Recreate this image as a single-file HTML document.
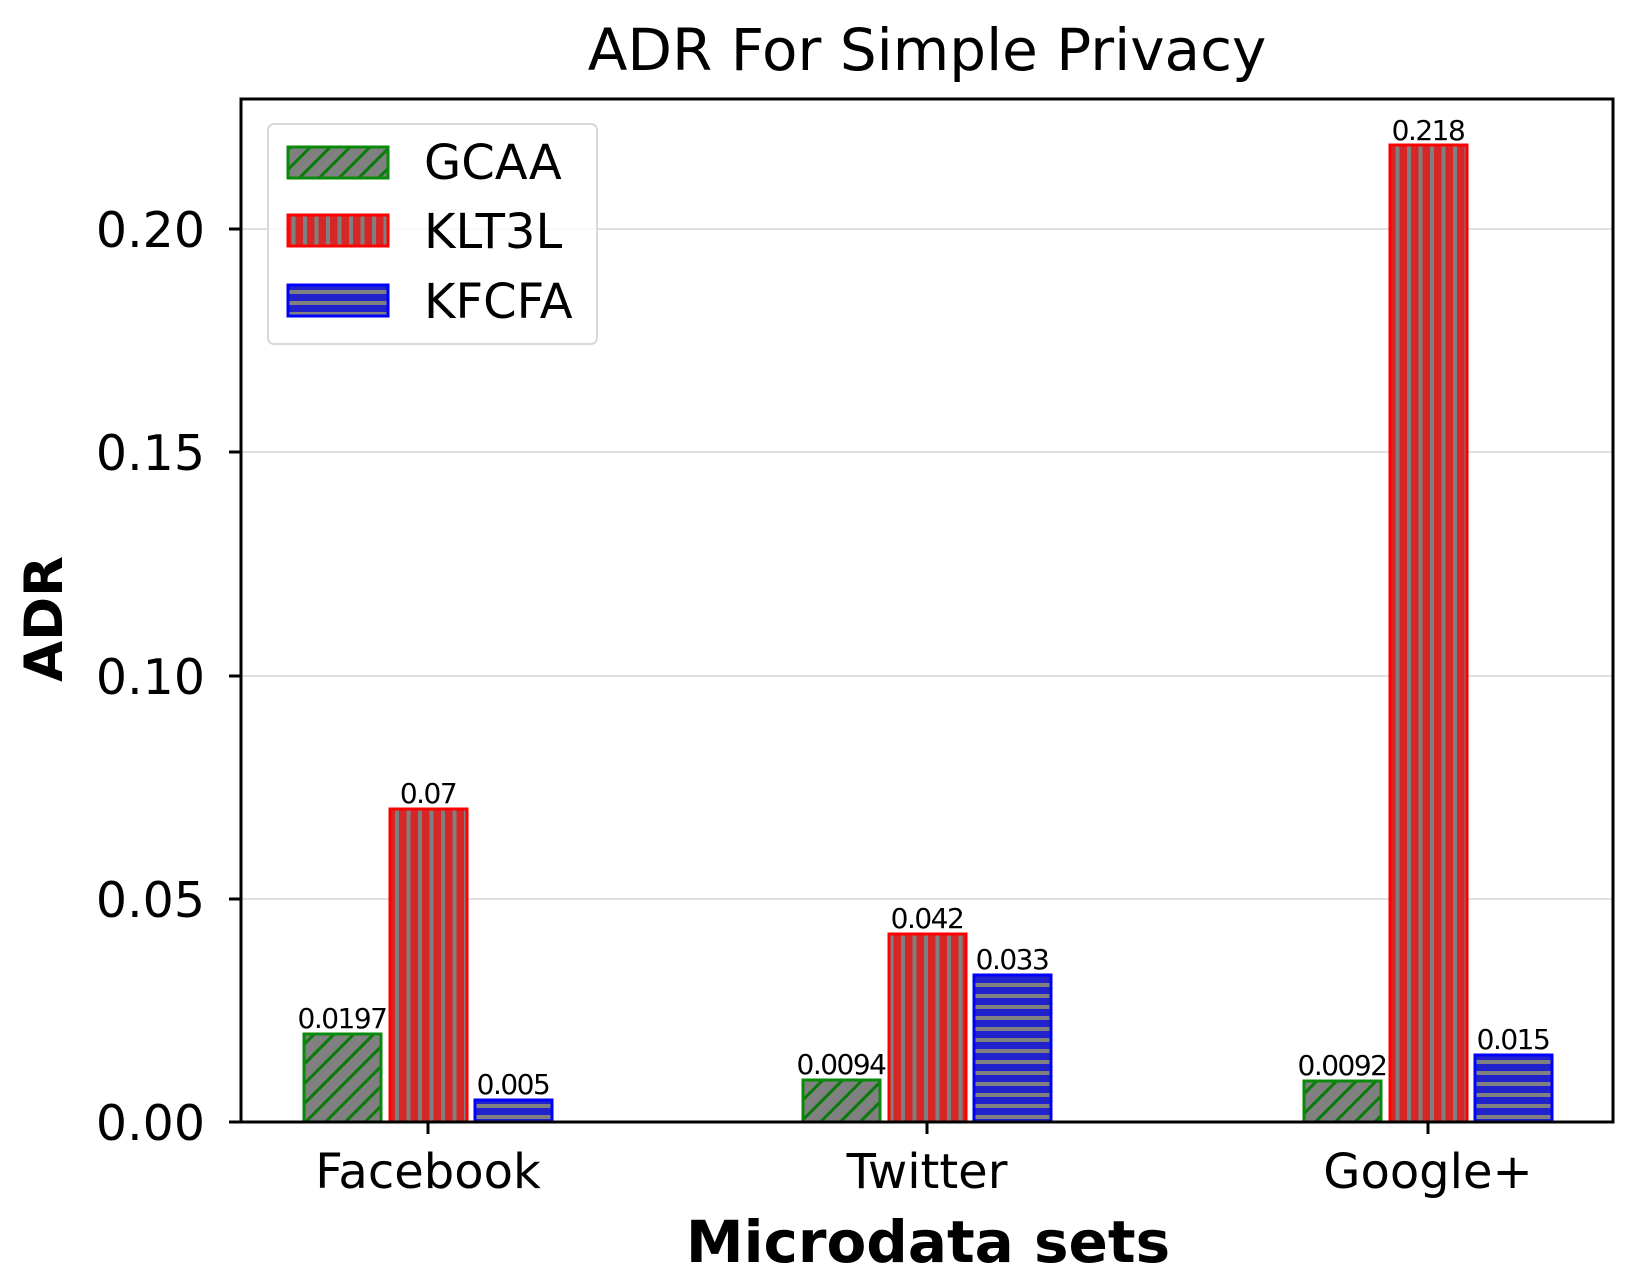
<!DOCTYPE html>
<html><head><meta charset="utf-8"><style>
html,body{margin:0;padding:0;background:#fff;}
svg{display:block;}
text{font-family:"DejaVu Sans","Liberation Sans",sans-serif;fill:#000;}
</style></head><body>
<svg width="1637" height="1279" viewBox="0 0 1637 1279" xmlns="http://www.w3.org/2000/svg">
<defs>
<pattern id="pg" patternUnits="userSpaceOnUse" width="14" height="14" patternTransform="rotate(45)">
<rect width="14" height="14" fill="#808080"/><rect x="0" y="0" width="3" height="14" fill="#0a7a0a"/></pattern>
<pattern id="pr" patternUnits="userSpaceOnUse" width="11.5" height="10">
<rect width="11.5" height="10" fill="#d62728"/><rect x="4" y="0" width="4" height="10" fill="#808080"/></pattern>
<pattern id="pb" patternUnits="userSpaceOnUse" width="10" height="11">
<rect width="10" height="11" fill="#2222cc"/><rect x="0" y="4" width="10" height="4" fill="#808080"/></pattern>
</defs>
<text x="927" y="70" font-size="58" text-anchor="middle">ADR For Simple Privacy</text>
<g stroke="#e0e0e0" stroke-width="2">
<line x1="241" x2="1613" y1="229" y2="229"/>
<line x1="241" x2="1613" y1="452" y2="452"/>
<line x1="241" x2="1613" y1="676" y2="676"/>
<line x1="241" x2="1613" y1="899" y2="899"/>
</g>
<g stroke-width="3">
<rect x="304" y="1034" width="77" height="88" fill="url(#pg)" stroke="#0a8a0a"/>
<rect x="390" y="809" width="77" height="313" fill="url(#pr)" stroke="#ff0000"/>
<rect x="475" y="1100" width="77" height="22" fill="url(#pb)" stroke="#0000ff"/>
<rect x="803" y="1080" width="77" height="42" fill="url(#pg)" stroke="#0a8a0a"/>
<rect x="889" y="934" width="77" height="188" fill="url(#pr)" stroke="#ff0000"/>
<rect x="974" y="975" width="77" height="147" fill="url(#pb)" stroke="#0000ff"/>
<rect x="1304" y="1081" width="77" height="41" fill="url(#pg)" stroke="#0a8a0a"/>
<rect x="1390" y="145" width="77" height="977" fill="url(#pr)" stroke="#ff0000"/>
<rect x="1475" y="1055" width="77" height="67" fill="url(#pb)" stroke="#0000ff"/>
</g>
<g font-size="28" text-anchor="middle" style="letter-spacing:-1.5px" fill="#222">
<text x="342" y="1028">0.0197</text>
<text x="428" y="803">0.07</text>
<text x="513" y="1094">0.005</text>
<text x="841" y="1074">0.0094</text>
<text x="927" y="928">0.042</text>
<text x="1012" y="969">0.033</text>
<text x="1342" y="1075">0.0092</text>
<text x="1428" y="140">0.218</text>
<text x="1513" y="1049">0.015</text>
</g>
<rect x="241" y="99" width="1372" height="1023" fill="none" stroke="#000" stroke-width="3"/>
<g stroke="#000" stroke-width="3">
<line x1="229" x2="241" y1="1122" y2="1122"/>
<line x1="229" x2="241" y1="899" y2="899"/>
<line x1="229" x2="241" y1="676" y2="676"/>
<line x1="229" x2="241" y1="452" y2="452"/>
<line x1="229" x2="241" y1="229" y2="229"/>
<line x1="428" x2="428" y1="1122" y2="1134"/>
<line x1="927" x2="927" y1="1122" y2="1134"/>
<line x1="1428" x2="1428" y1="1122" y2="1134"/>
</g>
<g font-size="49" text-anchor="end">
<text x="205" y="1140">0.00</text>
<text x="205" y="917">0.05</text>
<text x="205" y="694">0.10</text>
<text x="205" y="470">0.15</text>
<text x="205" y="247">0.20</text>
</g>
<g font-size="48" text-anchor="middle">
<text x="428" y="1188">Facebook</text>
<text x="927" y="1188">Twitter</text>
<text x="1428" y="1188">Google+</text>
</g>
<text x="928" y="1262" font-size="58" font-weight="bold" text-anchor="middle">Microdata sets</text>
<text transform="translate(62,619) rotate(-90)" font-size="53" font-weight="bold" text-anchor="middle">ADR</text>
<rect x="268" y="124" width="329" height="220" rx="6" fill="#fff" fill-opacity="0.8" stroke="#d8d8d8" stroke-width="2"/>
<g stroke-width="3">
<rect x="288" y="147" width="100" height="31" fill="url(#pg)" stroke="#0a8a0a"/>
<rect x="288" y="215" width="100" height="31" fill="url(#pr)" stroke="#ff0000"/>
<rect x="288" y="285" width="100" height="31" fill="url(#pb)" stroke="#0000ff"/>
</g>
<g font-size="48">
<text x="424" y="179">GCAA</text>
<text x="424" y="248">KLT3L</text>
<text x="424" y="318">KFCFA</text>
</g>
</svg>
</body></html>
